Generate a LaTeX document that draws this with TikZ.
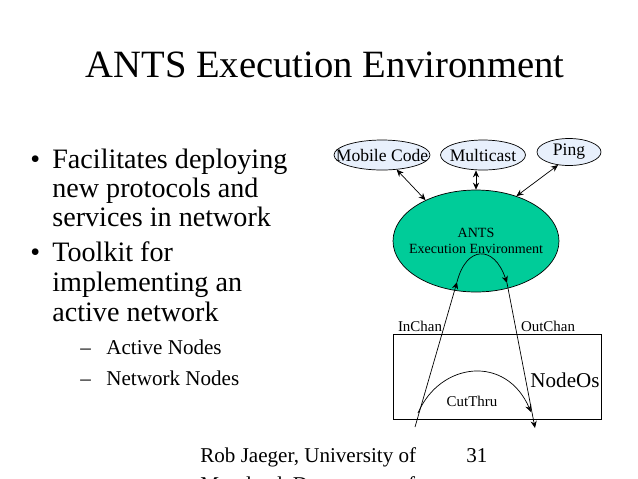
\documentclass[tikz,border=0pt]{standalone}
\usepackage{fontspec}
\setmainfont{Liberation Serif}
\usepackage{xcolor}
\usepackage{tikz}
\usetikzlibrary{shapes, arrows.meta, positioning}
\definecolor{eegreen}{RGB}{0, 204, 153}
\definecolor{appblue}{RGB}{232, 240, 252}
\definecolor{linkblack}{RGB}{0, 0, 0}

\begin{document}
\begin{tikzpicture}[x=0.02cm, y=-0.02cm, >={Stealth[length=4pt,width=3.5pt]},
  every node/.style={inner sep=0pt},
  bulletline/.style={anchor=base west, font=\fontsize{16}{19}\selectfont},
  subline/.style={anchor=base west, font=\fontsize{12}{14}\selectfont},
  appnode/.style={ellipse, draw, fill=appblue, font=\fontsize{10}{12}\selectfont},
  chanlabel/.style={font=\fontsize{8.5}{10}\selectfont},
  link/.style={<->, linkblack}]

\useasboundingbox (0,0) rectangle (638,478);
\clip (0,0) rectangle (638,478);

% Title
\node[anchor=base, font=\fontsize{22}{26}\selectfont] at (325,77) (title) {ANTS Execution Environment};

% Bullet 1
\node[bulletline] at (30,168) (dot1) {•};
\node[bulletline] at (52,168) (b1a) {Facilitates deploying};
\node[bulletline] at (52,197) (b1b) {new protocols and};
\node[bulletline] at (52,226) (b1c) {services in network};

% Bullet 2
\node[bulletline] at (30,261) (dot2) {•};
\node[bulletline] at (52,261) (b2a) {Toolkit for};
\node[bulletline] at (52,291) (b2b) {implementing an};
\node[bulletline] at (52,321) (b2c) {active network};

% Sub bullets
\node[subline] at (80,354) (dash1) {–};
\node[subline] at (106,354) (s1) {Active Nodes};
\node[subline] at (80,385) (dash2) {–};
\node[subline] at (106,385) (s2) {Network Nodes};

% Applications
\node[appnode, minimum width=1.92cm, minimum height=0.6cm, label=center:{Mobile Code}] at (382,155) (mobile) {};
\node[appnode, minimum width=1.7cm, minimum height=0.6cm, label=center:{Multicast}] at (483,155) (multicast) {};
\node[appnode, minimum width=1.28cm, minimum height=0.54cm, label=center:{Ping}] at (569,152) (ping) {};

% Execution environment
\node[ellipse, draw, fill=eegreen, minimum width=3.32cm, minimum height=2.04cm,
  label={[align=center, font=\fontsize{8}{9.5}\selectfont]center:ANTS\\Execution Environment}] at (476,241) (ee) {};

% Applications to EE
\draw[link] (mobile.-45) -- (ee.141);
\draw[link] (ee.north) -- (ee.north |- multicast.south);
\draw[link] (ping.-130) -- (ee.48);

% NodeOs box
\node[draw, minimum width=4.16cm, minimum height=1.7cm] at (497,376.5) (nodeos) {};
\node[font=\fontsize{12}{14}\selectfont] at (565,380) (nodeoslabel) {NodeOs};

% Channel labels
\node[chanlabel] at (420,326) (inchan) {InChan};
\node[chanlabel] at (548,326) (outchan) {OutChan};
\node[chanlabel] at (472,401) (cutthru) {CutThru};

% Channel end points
\coordinate (in_bot) at (415,427);
\coordinate (in_top) at (457,282);
\coordinate (out_top) at (507,283);
\coordinate (out_bot) at (535,428);
\coordinate (cut_start) at (418,413);
\coordinate (cut_end) at (531,412);

% InChan, through EE, OutChan
\draw[->] (in_bot) -- (in_top);
\draw[->] (in_top) .. controls (466,246) and (494,244) .. (out_top);
\draw[->] (out_top) -- (out_bot);

% CutThru
\draw[->] (cut_start) .. controls (440,362) and (506,354) .. (cut_end);

% Footer
\node[anchor=base west, font=\fontsize{12}{14}\selectfont] at (200,462) (foot1) {Rob Jaeger, University of};
\node[anchor=base west, font=\fontsize{12}{14}\selectfont] at (466,462) (pagenum) {31};
\node[anchor=base west, font=\fontsize{12}{14}\selectfont] at (200,491) (foot2) {Maryland, Department of};

\end{tikzpicture}
\end{document}
